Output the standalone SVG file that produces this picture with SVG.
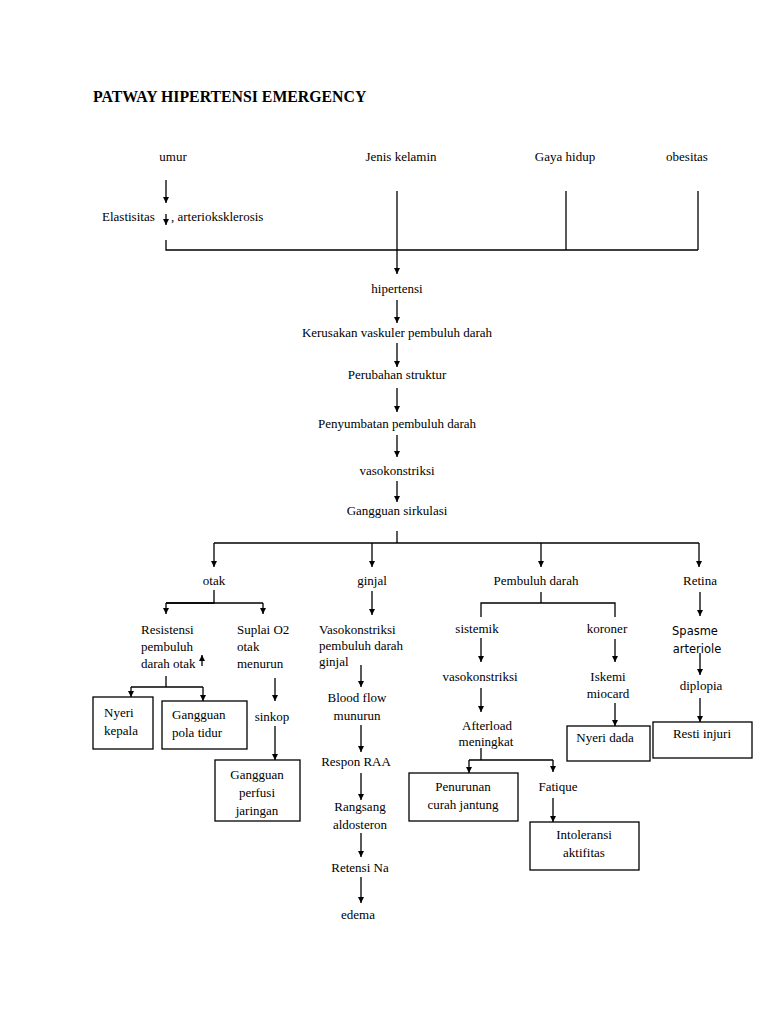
<svg xmlns="http://www.w3.org/2000/svg" width="768" height="1024" viewBox="0 0 768 1024">
<defs>
<marker id="ah" viewBox="0 0 6 6" refX="6" refY="3" markerWidth="6" markerHeight="6" markerUnits="userSpaceOnUse" orient="auto">
<path d="M0,0 L6,3 L0,6 z" fill="#000"/>
</marker>
<style>
text{font-family:"Liberation Serif","Times New Roman",serif;font-size:13px;fill:#000}
.m{text-anchor:middle}
.t{font-size:15.8px;font-weight:bold}
.s{font-family:"DejaVu Sans","Liberation Sans",sans-serif;font-size:11.5px}
.l{fill:none;stroke:#000;stroke-width:1.3}
.a{fill:none;stroke:#000;stroke-width:1.3;marker-end:url(#ah)}
.b{fill:#fff;stroke:#000;stroke-width:1.3}
</style>
</defs>
<rect width="768" height="1024" fill="#fff"/>
<text class="t" x="93" y="102">PATWAY HIPERTENSI EMERGENCY</text>

<g id="connectors">
<line class="a" x1="166" y1="180" x2="166" y2="203"/>
<line class="a" x1="166" y1="214" x2="166" y2="225"/>
<polyline class="l" points="166,240 166,250 698,250"/>
<line class="a" x1="397" y1="191" x2="397" y2="274"/>
<line class="l" x1="566" y1="191" x2="566" y2="250"/>
<line class="l" x1="698" y1="191" x2="698" y2="250"/>
<line class="a" x1="397" y1="300" x2="397" y2="323"/>
<line class="a" x1="397" y1="343" x2="397" y2="367"/>
<line class="a" x1="397" y1="388" x2="397" y2="412"/>
<line class="a" x1="397" y1="435" x2="397" y2="457"/>
<line class="a" x1="397" y1="481" x2="397" y2="502"/>
<line class="l" x1="397" y1="531" x2="397" y2="543"/>
<line class="l" x1="214" y1="543" x2="699" y2="543"/>
<line class="a" x1="214" y1="543" x2="214" y2="567"/>
<line class="a" x1="372" y1="543" x2="372" y2="567"/>
<line class="a" x1="541" y1="543" x2="541" y2="567"/>
<line class="a" x1="699" y1="543" x2="699" y2="567"/>
<polyline class="l" points="214,590 214,603 166,603"/>
<line class="l" x1="166" y1="603" x2="263" y2="603"/>
<line class="a" x1="166" y1="603" x2="166" y2="614"/>
<line class="a" x1="263" y1="603" x2="263" y2="614"/>
<line class="a" x1="202" y1="666" x2="202" y2="655"/>
<line class="l" x1="166" y1="676" x2="166" y2="687"/>
<line class="l" x1="131" y1="687" x2="203" y2="687"/>
<line class="a" x1="131" y1="687" x2="131" y2="697"/>
<line class="a" x1="203" y1="687" x2="203" y2="701"/>
<line class="a" x1="275" y1="678" x2="275" y2="701"/>
<line class="a" x1="275" y1="726" x2="275" y2="760"/>
<line class="a" x1="372" y1="591" x2="372" y2="615"/>
<line class="a" x1="361" y1="665" x2="361" y2="687"/>
<line class="a" x1="361" y1="725" x2="361" y2="752"/>
<line class="a" x1="361" y1="773" x2="361" y2="800"/>
<line class="a" x1="361" y1="833" x2="361" y2="857"/>
<line class="a" x1="361" y1="877" x2="361" y2="903"/>
<polyline class="l" points="481,617 481,603 615,603 615,617"/>
<line class="l" x1="541" y1="592" x2="541" y2="603"/>
<line class="a" x1="481" y1="638" x2="481" y2="662"/>
<line class="a" x1="481" y1="688" x2="481" y2="712"/>
<line class="l" x1="481" y1="748" x2="481" y2="760"/>
<line class="l" x1="469" y1="760" x2="553" y2="760"/>
<line class="a" x1="469" y1="760" x2="469" y2="773"/>
<line class="a" x1="553" y1="760" x2="553" y2="772"/>
<line class="a" x1="553" y1="798" x2="553" y2="822"/>
<line class="a" x1="615" y1="639" x2="615" y2="662"/>
<line class="a" x1="615" y1="703" x2="615" y2="726"/>
<line class="a" x1="700" y1="592" x2="700" y2="616"/>
<line class="a" x1="700" y1="653" x2="700" y2="675"/>
<line class="a" x1="700" y1="698" x2="700" y2="722"/>
</g>

<g id="n-umur"><text class="m" x="173" y="161">umur</text></g>
<g id="n-elastisitas"><text x="102" y="221">Elastisitas</text><text x="171" y="221">, arterioksklerosis</text></g>
<g id="n-jenis"><text class="m" x="401" y="161">Jenis kelamin</text></g>
<g id="n-gaya"><text class="m" x="565" y="161">Gaya hidup</text></g>
<g id="n-obesitas"><text class="m" x="687" y="161">obesitas</text></g>
<g id="n-hipertensi"><text class="m" x="397" y="293">hipertensi</text></g>
<g id="n-kerusakan"><text class="m" x="397" y="337">Kerusakan vaskuler pembuluh darah</text></g>
<g id="n-perubahan"><text class="m" x="397" y="379">Perubahan struktur</text></g>
<g id="n-penyumbatan"><text class="m" x="397" y="428">Penyumbatan pembuluh darah</text></g>
<g id="n-vaso"><text class="m" x="397" y="475">vasokonstriksi</text></g>
<g id="n-gangguan-sirkulasi"><text class="m" x="397" y="515">Gangguan sirkulasi</text></g>

<g id="n-otak"><text class="m" x="214" y="585">otak</text></g>
<g id="n-ginjal"><text class="m" x="372" y="585">ginjal</text></g>
<g id="n-pembuluh"><text class="m" x="536" y="585">Pembuluh darah</text></g>
<g id="n-retina"><text class="m" x="700" y="585">Retina</text></g>

<g id="n-resistensi"><text x="141" y="634">Resistensi</text><text x="141" y="651">pembuluh</text><text x="141" y="668">darah otak</text></g>
<g id="n-suplai"><text x="237" y="634">Suplai O2</text><text x="237" y="651">otak</text><text x="237" y="668">menurun</text></g>
<g id="n-nyeri-kepala"><rect class="b" x="93" y="697" width="60" height="52"/><text x="104" y="717">Nyeri</text><text x="104" y="735">kepala</text></g>
<g id="n-pola-tidur"><rect class="b" x="162" y="701" width="85" height="48"/><text x="172" y="719">Gangguan</text><text x="172" y="737">pola tidur</text></g>
<g id="n-sinkop"><text class="m" x="272" y="721">sinkop</text></g>
<g id="n-perfusi"><rect class="b" x="215" y="760" width="85" height="61"/><text class="m" x="257" y="779">Gangguan</text><text class="m" x="257" y="797">perfusi</text><text class="m" x="257" y="815">jaringan</text></g>

<g id="n-vaso-ginjal"><text x="319" y="634">Vasokonstriksi</text><text x="319" y="650">pembuluh darah</text><text x="319" y="666">ginjal</text></g>
<g id="n-bloodflow"><text class="m" x="357" y="702">Blood flow</text><text class="m" x="357" y="720">munurun</text></g>
<g id="n-raa"><text class="m" x="356" y="766">Respon RAA</text></g>
<g id="n-rangsang"><text class="m" x="360" y="811">Rangsang</text><text class="m" x="360" y="829">aldosteron</text></g>
<g id="n-retensi"><text class="m" x="360" y="872">Retensi Na</text></g>
<g id="n-edema"><text class="m" x="358" y="919">edema</text></g>

<g id="n-sistemik"><text class="m" x="477" y="633">sistemik</text></g>
<g id="n-koroner"><text class="m" x="607" y="633">koroner</text></g>
<g id="n-vaso2"><text class="m" x="480" y="681">vasokonstriksi</text></g>
<g id="n-afterload"><text class="m" x="487" y="730">Afterload</text><text class="m" x="486" y="746">meningkat</text></g>
<g id="n-penurunan"><rect class="b" x="409" y="773" width="109" height="48"/><text class="m" x="463" y="791">Penurunan</text><text class="m" x="463" y="809">curah jantung</text></g>
<g id="n-fatique"><text class="m" x="558" y="791">Fatique</text></g>
<g id="n-intoleransi"><rect class="b" x="530" y="822" width="109" height="48"/><text class="m" x="584" y="839">Intoleransi</text><text class="m" x="584" y="857">aktifitas</text></g>
<g id="n-iskemi"><text class="m" x="608" y="681">Iskemi</text><text class="m" x="608" y="698">miocard</text></g>
<g id="n-nyeri-dada"><rect class="b" x="567" y="726" width="83" height="35"/><text class="m" x="605" y="742">Nyeri dada</text></g>

<g id="n-spasme"><text class="m s" x="695" y="635">Spasme</text><text class="m s" x="697" y="653">arteriole</text></g>
<g id="n-diplopia"><text class="m" x="701" y="690">diplopia</text></g>
<g id="n-resti"><rect class="b" x="653" y="722" width="99" height="36"/><text class="m" x="702" y="738">Resti injuri</text></g>
</svg>
